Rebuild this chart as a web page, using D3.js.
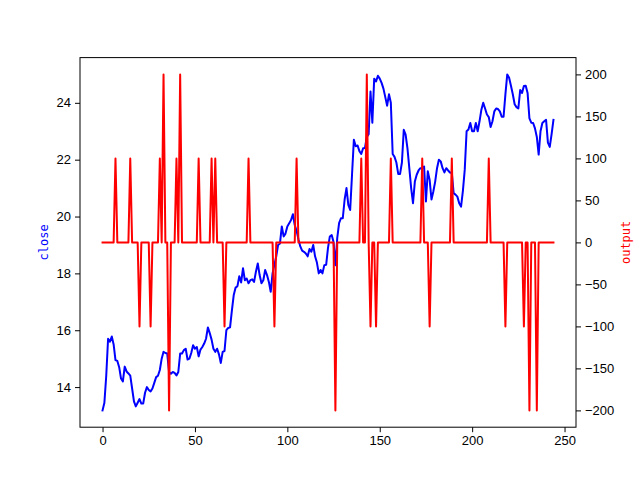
<!DOCTYPE html>
<html><head><meta charset="utf-8">
<script src="https://cdn.jsdelivr.net/npm/d3@7"></script>
<style>body{margin:0;background:#fff}svg{display:block}</style>
</head><body>
<script>
const closeVals = [
13.18,13.45,14.4,15.7,15.6,15.78,15.5,14.95,14.92,14.7,
14.3,14.2,14.72,14.55,14.48,14.4,13.95,13.5,13.32,13.45,
13.58,13.42,13.42,13.8,14.0,13.9,13.85,13.95,14.15,14.35,
14.4,14.6,15.0,15.24,15.2,15.18,14.53,14.47,14.53,14.5,
14.41,14.53,15.18,15.18,15.3,15.35,14.97,15.0,15.2,15.47,
15.35,15.41,15.08,15.32,15.41,15.53,15.7,16.1,15.9,15.67,
15.35,15.24,15.35,15.15,14.85,15.24,15.27,16.0,16.08,16.1,
16.7,17.24,17.5,17.55,17.9,17.68,18.18,17.76,17.82,17.65,
17.76,17.79,17.7,18.06,18.35,17.94,17.65,17.76,18.12,17.94,
17.7,17.35,18.0,18.3,18.6,19.0,19.05,19.65,19.3,19.4,
19.65,19.76,19.88,20.08,19.7,19.5,19.2,18.95,18.8,18.76,
18.7,18.6,18.86,18.76,19.0,18.6,18.38,18.0,18.12,18.0,
18.29,18.3,18.9,19.3,19.35,19.1,18.29,19.24,19.77,19.94,
19.94,20.6,21.0,20.41,20.23,21.47,22.7,22.47,22.5,22.3,
22.2,22.4,22.41,22.8,22.9,24.4,23.3,24.85,24.75,24.95,
24.85,24.7,24.5,24.2,23.9,24.3,24.0,22.2,22.1,21.9,
21.5,21.5,21.9,23.05,22.88,22.4,21.7,21.0,20.47,21.23,
21.47,21.62,21.7,21.7,21.76,20.53,21.59,21.29,20.6,20.88,
21.23,21.7,22.0,21.94,21.7,21.55,21.7,21.62,21.55,21.53,
20.82,20.77,20.7,20.47,20.35,20.9,21.65,23.0,23.06,23.29,
23.0,23.0,23.29,23.0,23.35,23.76,24.0,23.8,23.59,23.5,
23.15,23.35,23.7,23.8,23.78,23.7,23.51,23.51,24.3,25.0,
24.88,24.6,24.3,23.95,23.85,23.8,24.45,24.35,24.59,24.6,
24.35,23.45,23.3,23.29,23.1,22.8,22.18,23.0,23.29,23.35,
23.4,22.6,22.45,22.9,23.4
];
const outputVals = [
0,0,0,0,0,0,0,100,0,0,
0,0,0,0,0,100,0,0,0,0,
-100,0,0,0,0,0,-100,0,0,0,
0,100,0,200,0,0,-200,0,0,0,
100,0,200,0,0,0,0,0,0,0,
0,0,100,0,0,0,0,0,0,100,
0,100,0,0,0,0,-100,0,0,0,
0,0,0,0,0,0,0,0,0,100,
0,0,0,0,0,0,0,0,0,0,
0,0,0,-100,0,0,0,0,0,0,
0,0,0,0,0,100,0,0,0,0,
0,0,0,0,0,0,0,0,0,0,
0,0,0,0,0,0,-200,0,0,0,
0,0,0,0,0,0,0,0,0,0,
100,0,0,200,0,-100,0,0,-100,0,
0,0,0,0,0,0,100,0,0,0,
0,0,0,0,0,0,0,0,0,0,
0,0,0,100,0,0,0,-100,0,0,
0,0,0,0,0,0,0,0,0,100,
0,0,0,0,0,0,0,0,0,0,
0,0,0,0,0,0,0,0,0,100,
0,0,0,0,0,0,0,0,-100,0,
0,0,0,0,0,0,0,0,-100,0,
0,-200,0,0,0,-200,0,0,0,0,
0,0,0,0,0
];
const xTicks = [0,50,100,150,200,250];
const leftTicks = [14,16,18,20,22,24];
const rightTicks = [-200,-150,-100,-50,0,50,100,150,200];

const W=640,H=480, L=80,R=576,T=57.6,B=427.2;
const svg=d3.select("body").append("svg").attr("width",W).attr("height",H);
const n=closeVals.length;
const xPad=(n-1)*0.05;
const x=d3.scaleLinear().domain([-xPad,n-1+xPad]).range([L,R]);
const cMin=d3.min(closeVals),cMax=d3.max(closeVals),cPad=(cMax-cMin)*0.05;
const yL=d3.scaleLinear().domain([cMin-cPad,cMax+cPad]).range([B,T]);
const oMin=d3.min(outputVals),oMax=d3.max(outputVals),oPad=(oMax-oMin)*0.05;
const yR=d3.scaleLinear().domain([oMin-oPad,oMax+oPad]).range([B,T]);

const font="'Liberation Sans', Arial, sans-serif";
const lineC=d3.line().x((d,i)=>x(i)).y(d=>yL(d));
const lineO=d3.line().x((d,i)=>x(i)).y(d=>yR(d));
svg.append("path").datum(closeVals).attr("d",lineC).attr("fill","none")
  .attr("stroke","#0000ff").attr("stroke-width",2).attr("stroke-linejoin","round").attr("stroke-linecap","square");
svg.append("path").datum(outputVals).attr("d",lineO).attr("fill","none")
  .attr("stroke","#ff0000").attr("stroke-width",2).attr("stroke-linejoin","round").attr("stroke-linecap","square");

function style(g){
  g.selectAll("path.domain").remove();
  g.selectAll("line").attr("stroke","#000").attr("stroke-width",1);
  g.selectAll("text").attr("font-family",font).attr("font-size",13).attr("fill","#000");
}
svg.append("g").attr("transform",`translate(0,${B})`)
  .call(d3.axisBottom(x).tickValues(xTicks).tickSize(5).tickPadding(4).tickFormat(d3.format("d"))).call(style);
svg.append("g").attr("transform",`translate(${L},0)`)
  .call(d3.axisLeft(yL).tickValues(leftTicks).tickSize(5).tickPadding(4).tickFormat(d3.format("d"))).call(style);
svg.append("g").attr("transform",`translate(${R},0)`)
  .call(d3.axisRight(yR).tickValues(rightTicks).tickSize(5).tickPadding(4).tickFormat(d3.format("d"))).call(style);

svg.append("rect").attr("x",L).attr("y",T).attr("width",R-L).attr("height",B-T)
  .attr("fill","none").attr("stroke","#000").attr("stroke-width",1);

svg.append("text").attr("transform",`translate(48,${(T+B)/2}) rotate(-90)`)
  .attr("text-anchor","middle").attr("font-family","'DejaVu Sans Mono', monospace").attr("font-size",12)
  .attr("fill","#0000ff").text("close");
svg.append("text").attr("transform",`translate(630,${(T+B)/2}) rotate(-90)`)
  .attr("text-anchor","middle").attr("font-family","'DejaVu Sans Mono', monospace").attr("font-size",12)
  .attr("fill","#ff0000").text("output");
</script>
</body></html>
